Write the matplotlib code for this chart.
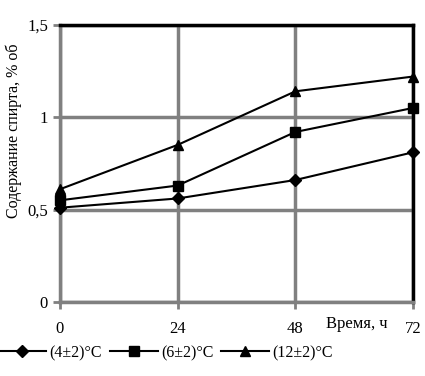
import matplotlib
matplotlib.use('Agg')
import matplotlib.pyplot as plt

plt.rcParams['font.family'] = ['Liberation Serif', 'DejaVu Serif']

hours = [0, 24, 48, 72]
t4 = [0.51, 0.56, 0.66, 0.81]
t6 = [0.55, 0.63, 0.92, 1.05]
t12 = [0.61, 0.85, 1.14, 1.22]
labels = ['(4±2)°C', '(6±2)°C', '(12±2)°C']

GRAY = '#808080'

fig = plt.figure(figsize=(4.25, 3.76), dpi=100)
ax = fig.add_axes([0.141, 0.197, 0.831, 0.737])

ax.plot(hours, t4, '-', color='k', lw=1.5, marker='D', ms=6, label=labels[0], clip_on=False, zorder=5)
ax.plot(hours, t6, '-', color='k', lw=1.5, marker='s', ms=7, label=labels[1], clip_on=False, zorder=5)
ax.plot(hours, t12, '-', color='k', lw=1.5, marker='^', ms=7, label=labels[2], clip_on=False, zorder=5)

ax.set_xlim(0, 72)
ax.set_ylim(0, 1.5)
ax.set_xticks(hours)
ax.set_yticks([0, 0.5, 1, 1.5])
ax.set_yticklabels(['0', '0,5', '1', '1,5'])
ax.grid(True, color=GRAY, lw=2.5)
ax.set_axisbelow(True)

for s in ['left', 'bottom']:
    ax.spines[s].set_color(GRAY)
    ax.spines[s].set_linewidth(2.5)
for s in ['top', 'right']:
    ax.spines[s].set_color('k')
    ax.spines[s].set_linewidth(2.5)

ax.tick_params(axis='both', colors=GRAY, width=2, length=5, labelcolor='k', labelsize=12)
ax.tick_params(axis='x', pad=9)

ax.set_ylabel('Содержание спирта, % об', fontsize=11.5)
ax.yaxis.set_label_coords(-0.108, 0.617)
ax.text(0.927, -0.08, 'Время, ч', transform=ax.transAxes, fontsize=12,
        ha='right', va='center')

fig.legend(loc='lower left', bbox_to_anchor=(-0.03, 0.01), ncol=3, frameon=False,
           fontsize=11.5, handlelength=3.0, handletextpad=0.2, columnspacing=0.5,
           borderaxespad=0.3)

fig.savefig('out.png', dpi=100)
